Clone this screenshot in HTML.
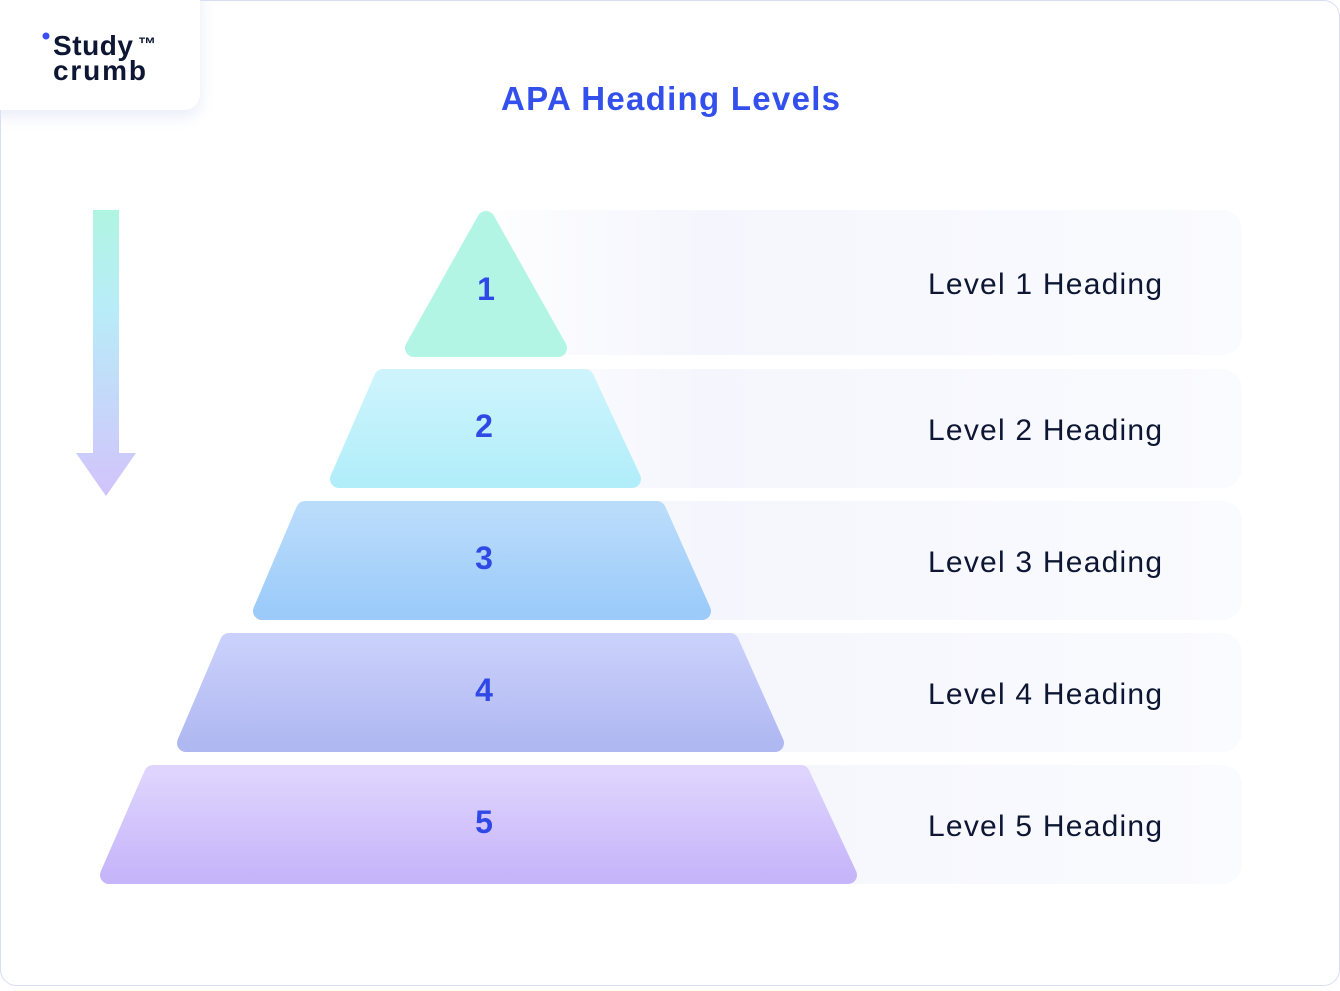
<!DOCTYPE html>
<html><head><style>
body{margin:0;width:1340px;height:986px;background:#fff;overflow:hidden;font-family:"Liberation Sans",sans-serif}
</style></head><body>
<svg width="1340" height="986" viewBox="0 0 1340 986" xmlns="http://www.w3.org/2000/svg">
<defs>
<linearGradient id="card" x1="0" x2="1" y1="0" y2="0"><stop offset="0" stop-color="#f3f4fc" stop-opacity="0"/><stop offset="0.3" stop-color="#f5f6fd"/><stop offset="1" stop-color="#fafbfe"/></linearGradient>
<linearGradient id="arr" x1="0" x2="0" y1="0" y2="1"><stop offset="0" stop-color="#b0f5e2"/><stop offset="0.35" stop-color="#b8ecf8"/><stop offset="1" stop-color="#d2c3fb"/></linearGradient>
<linearGradient id="g2" x1="0" x2="0" y1="0" y2="1"><stop offset="0" stop-color="#cdf4fc"/><stop offset="1" stop-color="#b2eefa"/></linearGradient>
<linearGradient id="g3" x1="0" x2="0" y1="0" y2="1"><stop offset="0" stop-color="#badcfb"/><stop offset="1" stop-color="#9ccbfa"/></linearGradient>
<linearGradient id="g4" x1="0" x2="0" y1="0" y2="1"><stop offset="0" stop-color="#c9d0fb"/><stop offset="1" stop-color="#b0b8f2"/></linearGradient>
<linearGradient id="g5" x1="0" x2="0" y1="0" y2="1"><stop offset="0" stop-color="#ded4fd"/><stop offset="1" stop-color="#c7b5fa"/></linearGradient>
<filter id="sh" x="-20%" y="-20%" width="140%" height="160%"><feDropShadow dx="0" dy="6" stdDeviation="8" flood-color="#dfe3f6" flood-opacity="0.7"/></filter>
</defs>
<rect x="0.5" y="0.5" width="1339" height="985" rx="16" fill="#fff" stroke="#d9ddf3"/>
<rect x="-20" y="-20" width="220" height="130" rx="16" fill="#fff" filter="url(#sh)"/>
<circle cx="46" cy="36" r="3.5" fill="#3b4ef0"/>
<text x="53" y="55" font-size="28" font-weight="bold" fill="#0d1633" textLength="80">Study</text>
<text x="138" y="50" font-size="18" font-weight="bold" fill="#0d1633">™</text>
<text x="53" y="80" font-size="28" font-weight="bold" fill="#0d1633" textLength="93">crumb</text>
<text x="501" y="110" font-size="33" font-weight="bold" fill="#3350ec" textLength="339">APA Heading Levels</text>
<g fill="url(#card)">
<rect x="470" y="210" width="772" height="145" rx="20"/>
<rect x="470" y="369" width="772" height="119" rx="20"/>
<rect x="470" y="501" width="772" height="119" rx="20"/>
<rect x="470" y="633" width="772" height="119" rx="20"/>
<rect x="470" y="765" width="772" height="119" rx="20"/>
</g>
<g stroke-linejoin="round" stroke-width="18">
<polygon points="486,220 414,348 558,348" fill="#b3f5e4" stroke="#b3f5e4"/>
<polygon points="383,378 585,378 632,479 339,479" fill="url(#g2)" stroke="url(#g2)"/>
<polygon points="305,510 657,510 702,611 262,611" fill="url(#g3)" stroke="url(#g3)"/>
<polygon points="229,642 730,642 775,743 186,743" fill="url(#g4)" stroke="url(#g4)"/>
<polygon points="153,774 801,774 848,875 109,875" fill="url(#g5)" stroke="url(#g5)"/>
</g>
<g font-size="32" font-weight="bold" fill="#2f48e6" text-anchor="middle">
<text x="486" y="300">1</text><text x="484" y="437">2</text><text x="484" y="569">3</text><text x="484" y="701">4</text><text x="484" y="833">5</text>
</g>
<g font-size="30" fill="#0d1633">
<text x="928" y="294" textLength="234">Level 1 Heading</text>
<text x="928" y="440" textLength="234">Level 2 Heading</text>
<text x="928" y="572" textLength="234">Level 3 Heading</text>
<text x="928" y="704" textLength="234">Level 4 Heading</text>
<text x="928" y="836" textLength="234">Level 5 Heading</text>
</g>
<path d="M93,210 H119 V453 H136 L106,496 L76,453 H93 Z" fill="url(#arr)"/>
</svg>
</body></html>
